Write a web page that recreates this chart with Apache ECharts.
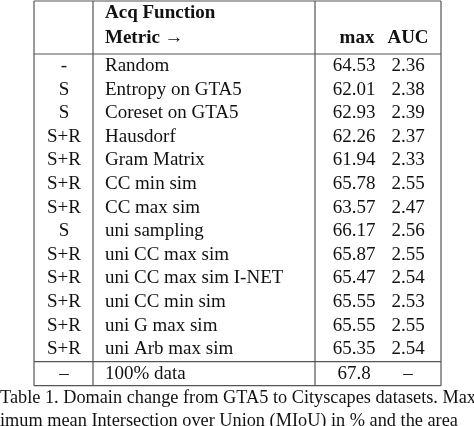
<!DOCTYPE html>
<html><head><meta charset="utf-8">
<script src="https://cdn.jsdelivr.net/npm/echarts@6/dist/echarts.min.js"></script>
<style>html,body{margin:0;padding:0;background:#fff}#c{width:474px;height:426px}</style>
</head><body><div id="c"></div>
<script>
const types = ['-','S','S','S+R','S+R','S+R','S+R','S','S+R','S+R','S+R','S+R','S+R','–'];
const methods = ['Random','Entropy on GTA5','Coreset on GTA5','Hausdorf','Gram Matrix','CC min sim','CC max sim','uni sampling','uni CC max sim','uni CC max sim I-NET','uni CC min sim','uni G max sim','uni Arb max sim','100% data'];
const maxVals = ['64.53','62.01','62.93','62.26','61.94','65.78','63.57','66.17','65.87','65.47','65.55','65.55','65.35','67.8'];
const aucVals = ['2.36','2.38','2.39','2.37','2.33','2.55','2.47','2.56','2.55','2.54','2.53','2.55','2.54','–'];
const caption = ['Table 1. Domain change from GTA5 to Cityscapes datasets. Max-','imum mean Intersection over Union (MIoU) in % and the area'];

const chart = echarts.init(document.getElementById('c'));
const F = '"Liberation Serif","DejaVu Serif",serif';
const els = [];
const L=34, V1=93, V2=315, R=441, TOP=1, HB=54, ROWH=23.6, Y0=66;
const lineS = {stroke:'#555', lineWidth:1.2};
function hl(y,x1,x2){els.push({type:'line',shape:{x1:x1||L,y1:y,x2:x2||R,y2:y},style:lineS});}
function t(x,y,s,align,bold,size){els.push({type:'text',x:x,y:y,style:{text:s,font:(bold?'bold ':'')+(size||19)+'px '+F,fill:'#111',align:align||'left',verticalAlign:'middle'}});}
hl(TOP); hl(HB);
const lastY = Y0 + ROWH*12;
const sep = lastY + 12.5, bot = sep + 24;
hl(sep); hl(bot);
[L,V1,V2,R].forEach(x=>els.push({type:'line',shape:{x1:x,y1:TOP,x2:x,y2:bot},style:lineS}));
t(105,13,'Acq Function','left',true);
t(105,38,'Metric →','left',true);
t(357,38,'max','center',true);
t(408,38,'AUC','center',true);
methods.forEach((m,i)=>{
  const y = i<13 ? Y0+ROWH*i : sep+12;
  t(64,y,types[i],'center');
  t(105,y,m);
  t(354,y,maxVals[i],'center');
  t(408,y,aucVals[i],'center');
});
t(0,398,caption[0],'left',false,18.3);
t(0,421,caption[1],'left',false,18.3);
chart.setOption({animation:false,graphic:{elements:els}});
</script></body></html>
